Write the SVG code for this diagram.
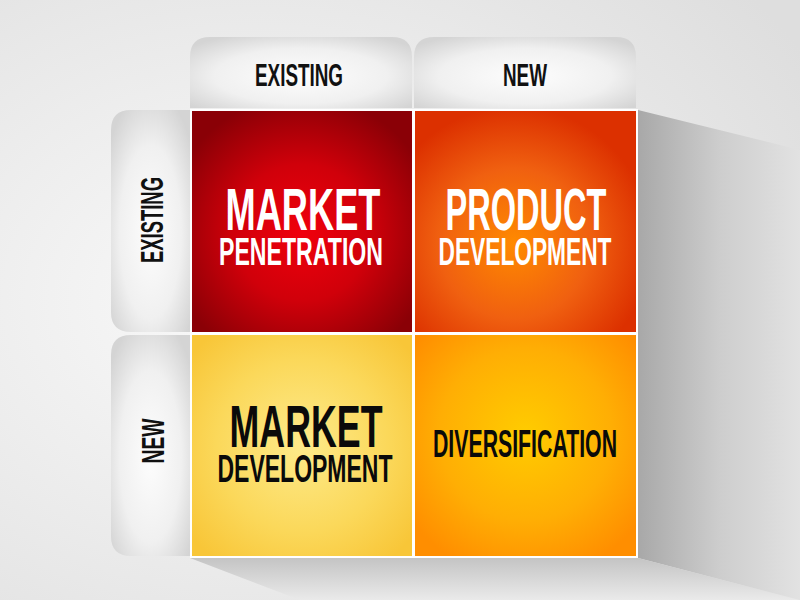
<svg xmlns="http://www.w3.org/2000/svg" width="800" height="600" viewBox="0 0 800 600">
<defs>
<radialGradient id="bg" cx="0.32" cy="0.5" r="0.8">
<stop offset="0" stop-color="#fafafa"/><stop offset="1" stop-color="#dedede"/>
</radialGradient>
<linearGradient id="shR" x1="0" y1="0" x2="1" y2="0">
<stop offset="0" stop-color="#a8a8a8"/><stop offset="0.5" stop-color="#cdcdcd"/><stop offset="1" stop-color="#e2e2e2"/>
</linearGradient>
<linearGradient id="shB" x1="0" y1="0" x2="0" y2="1">
<stop offset="0" stop-color="#c4c4c4"/><stop offset="1" stop-color="#eaeaea"/>
</linearGradient>
<radialGradient id="tab" cx="0.5" cy="0.55" r="0.65">
<stop offset="0" stop-color="#fdfdfd"/><stop offset="0.6" stop-color="#f0f0f0"/><stop offset="1" stop-color="#d4d4d4"/>
</radialGradient>
<radialGradient id="gTL" cx="0.5" cy="0.55" r="0.62">
<stop offset="0" stop-color="#f0000c"/><stop offset="0.5" stop-color="#d0000a"/><stop offset="1" stop-color="#8a0006"/>
</radialGradient>
<radialGradient id="gTR" cx="0.45" cy="0.6" r="0.62">
<stop offset="0" stop-color="#ff8a00"/><stop offset="0.55" stop-color="#f06010"/><stop offset="1" stop-color="#dc3000"/>
</radialGradient>
<radialGradient id="gBL" cx="0.5" cy="0.5" r="0.65">
<stop offset="0" stop-color="#fdea8a"/><stop offset="0.6" stop-color="#fbd85a"/><stop offset="1" stop-color="#f8c638"/>
</radialGradient>
<radialGradient id="gBR" cx="0.5" cy="0.45" r="0.65">
<stop offset="0" stop-color="#ffcc00"/><stop offset="0.6" stop-color="#ffae04"/><stop offset="1" stop-color="#ff8e00"/>
</radialGradient>
</defs>
<style>
.t{font-family:"Liberation Sans","DejaVu Sans",sans-serif;font-weight:bold;text-anchor:middle}
.hd{font-size:31px;fill:#111}
.big{font-size:60px}
.sm{font-size:39px}
.w{fill:#ffffff}
.k{fill:#0a0a0a}
</style>
<rect width="800" height="600" fill="url(#bg)"/>
<g id="shadow">
<polygon points="638,110 800,150 800,600 638,558" fill="url(#shR)"/>
<polygon points="190,558 638,558 800,600 300,600" fill="url(#shB)"/>
</g>
<g id="header-existing">
<path d="M190,108 V57 Q190,37 210,37 H392 Q412,37 412,57 V108 Z" fill="url(#tab)"/>
<text class="t hd" x="299" y="86" textLength="88" lengthAdjust="spacingAndGlyphs">EXISTING</text>
</g>
<g id="header-new">
<path d="M414,108 V57 Q414,37 434,37 H616 Q636,37 636,57 V108 Z" fill="url(#tab)"/>
<text class="t hd" x="525" y="86" textLength="44" lengthAdjust="spacingAndGlyphs">NEW</text>
</g>
<g id="row-existing">
<path d="M190,110 H131 Q111,110 111,130 V312 Q111,332 131,332 H190 Z" fill="url(#tab)"/>
<text class="t hd" transform="translate(163,220) rotate(-90)" x="0" y="0" textLength="86" lengthAdjust="spacingAndGlyphs">EXISTING</text>
</g>
<g id="row-new">
<path d="M190,335 H131 Q111,335 111,355 V536 Q111,556 131,556 H190 Z" fill="url(#tab)"/>
<text class="t hd" transform="translate(164,441) rotate(-90)" x="0" y="0" textLength="45" lengthAdjust="spacingAndGlyphs">NEW</text>
</g>
<rect x="190" y="109" width="448" height="449" fill="#ffffff"/>
<g id="market-penetration">
<rect x="192" y="111" width="220" height="221" fill="url(#gTL)"/>
<text class="t big w" x="303" y="230" textLength="155" lengthAdjust="spacingAndGlyphs">MARKET</text>
<text class="t sm w" x="301" y="265" textLength="164" lengthAdjust="spacingAndGlyphs">PENETRATION</text>
</g>
<g id="product-development">
<rect x="415" y="111" width="221" height="221" fill="url(#gTR)"/>
<text class="t big w" x="526" y="230" textLength="161" lengthAdjust="spacingAndGlyphs">PRODUCT</text>
<text class="t sm w" x="525" y="265" textLength="173" lengthAdjust="spacingAndGlyphs">DEVELOPMENT</text>
</g>
<g id="market-development">
<rect x="192" y="335" width="220" height="221" fill="url(#gBL)"/>
<text class="t big k" x="306" y="447" textLength="153" lengthAdjust="spacingAndGlyphs">MARKET</text>
<text class="t sm k" x="305" y="482" textLength="175" lengthAdjust="spacingAndGlyphs">DEVELOPMENT</text>
</g>
<g id="diversification">
<rect x="415" y="335" width="221" height="221" fill="url(#gBR)"/>
<text class="t sm k" x="525" y="457" textLength="184" lengthAdjust="spacingAndGlyphs">DIVERSIFICATION</text>
</g>
</svg>
